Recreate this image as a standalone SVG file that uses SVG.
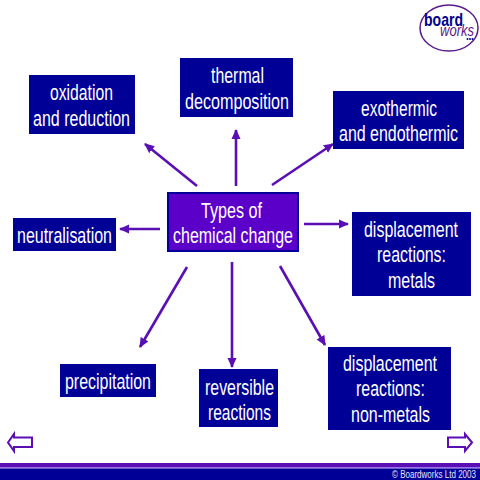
<svg xmlns="http://www.w3.org/2000/svg" width="480" height="480" viewBox="0 0 480 480">
<defs><marker id="a" markerUnits="userSpaceOnUse" markerWidth="10" markerHeight="10" refX="9" refY="5" orient="auto"><path d="M0 0.5L10 5L0 9.5Z" fill="#5a0fb4"/></marker></defs>
<style>
.n{fill:#000096}.t{font-family:"Liberation Sans",Arial,sans-serif;font-size:21.5px;fill:#fff;text-anchor:middle}
.c line{stroke:#5a0fb4;stroke-width:2.6;marker-end:url(#a)}
.nav{fill:#fff;stroke:#5a0fb4;stroke-width:2}
</style>
<rect width="480" height="480" fill="#fff"/>
<g id="logo"><ellipse cx="449" cy="28" rx="29" ry="23" fill="#fff" stroke="#5a1a8c" stroke-width="1.5"/>
<text x="424" y="26" textLength="39" lengthAdjust="spacingAndGlyphs" font-family="'Liberation Sans',sans-serif" font-weight="bold" font-size="19" fill="#000090">board</text>
<text x="440" y="36" textLength="34" lengthAdjust="spacingAndGlyphs" font-family="'Liberation Sans',sans-serif" font-style="italic" font-size="16" fill="#5a1a8c">works</text>
<g fill="#000090"><circle cx="467.500" cy="39" r="1"/><circle cx="470" cy="39" r="1"/><circle cx="472.500" cy="39" r="1"/></g></g>
<g class="c">
<line x1="197" y1="186" x2="145" y2="144"/>
<line x1="236" y1="186" x2="236" y2="130"/>
<line x1="272" y1="185" x2="333" y2="144"/>
<line x1="304" y1="224" x2="348" y2="224"/>
<line x1="160" y1="229" x2="120" y2="229"/>
<line x1="187" y1="267" x2="140" y2="347"/>
<line x1="232" y1="262" x2="232" y2="367"/>
<line x1="280" y1="266" x2="325" y2="345"/>
</g>
<g id="n-center"><rect x="168" y="193" width="130" height="58" fill="#5a00c8" stroke="#000096" stroke-width="2"/><text class="t" x="231.500" y="218" textLength="61" lengthAdjust="spacingAndGlyphs">Types of</text><text class="t" x="233" y="243" textLength="120" lengthAdjust="spacingAndGlyphs">chemical change</text></g>
<g id="n-oxidation"><rect class="n" x="29" y="75" width="106" height="59"/><text class="t" x="81.500" y="100" textLength="63" lengthAdjust="spacingAndGlyphs">oxidation</text><text class="t" x="81.500" y="126" textLength="97" lengthAdjust="spacingAndGlyphs">and reduction</text></g>
<g id="n-thermal"><rect class="n" x="180" y="58" width="113" height="59"/><text class="t" x="237.500" y="83" textLength="53" lengthAdjust="spacingAndGlyphs">thermal</text><text class="t" x="237" y="109" textLength="104" lengthAdjust="spacingAndGlyphs">decomposition</text></g>
<g id="n-exo"><rect class="n" x="333" y="91" width="131" height="58"/><text class="t" x="399" y="116" textLength="76" lengthAdjust="spacingAndGlyphs">exothermic</text><text class="t" x="398.500" y="141" textLength="119" lengthAdjust="spacingAndGlyphs">and endothermic</text></g>
<g id="n-neutral"><rect class="n" x="13" y="218" width="103" height="33"/><text class="t" x="64.500" y="243" textLength="95" lengthAdjust="spacingAndGlyphs">neutralisation</text></g>
<g id="n-metals"><rect class="n" x="352" y="212" width="119" height="84"/><text class="t" x="411" y="237" textLength="94" lengthAdjust="spacingAndGlyphs">displacement</text><text class="t" x="411.500" y="262" textLength="69" lengthAdjust="spacingAndGlyphs">reactions:</text><text class="t" x="411.500" y="288" textLength="47" lengthAdjust="spacingAndGlyphs">metals</text></g>
<g id="n-precip"><rect class="n" x="60" y="364" width="96" height="33"/><text class="t" x="108" y="389" textLength="86" lengthAdjust="spacingAndGlyphs">precipitation</text></g>
<g id="n-rev"><rect class="n" x="199" y="369" width="79" height="58"/><text class="t" x="239.500" y="395" textLength="69" lengthAdjust="spacingAndGlyphs">reversible</text><text class="t" x="239.500" y="420" textLength="63" lengthAdjust="spacingAndGlyphs">reactions</text></g>
<g id="n-nonmetals"><rect class="n" x="328" y="347" width="123" height="83"/><text class="t" x="390" y="371" textLength="94" lengthAdjust="spacingAndGlyphs">displacement</text><text class="t" x="390.500" y="396" textLength="69" lengthAdjust="spacingAndGlyphs">reactions:</text><text class="t" x="390.500" y="422" textLength="79" lengthAdjust="spacingAndGlyphs">non-metals</text></g>
<g id="nav-back"><path class="nav" d="M8 442.500L14 434V437.500H32V447H14V451Z"/></g>
<g id="nav-next"><path class="nav" d="M472 442.500L465 434V437.500H448V447H465V451Z"/></g>
<g id="footer"><rect y="463" width="480" height="4.500" fill="#5a0fb4"/><rect y="467" width="480" height="1.500" fill="#a070f0"/><rect y="468.500" width="480" height="11.500" fill="#000096"/>
<text x="392" y="478" textLength="84" lengthAdjust="spacingAndGlyphs" font-family="'Liberation Sans',sans-serif" font-size="11.500" fill="#e4e4ff">© Boardworks Ltd 2003</text></g>
</svg>
